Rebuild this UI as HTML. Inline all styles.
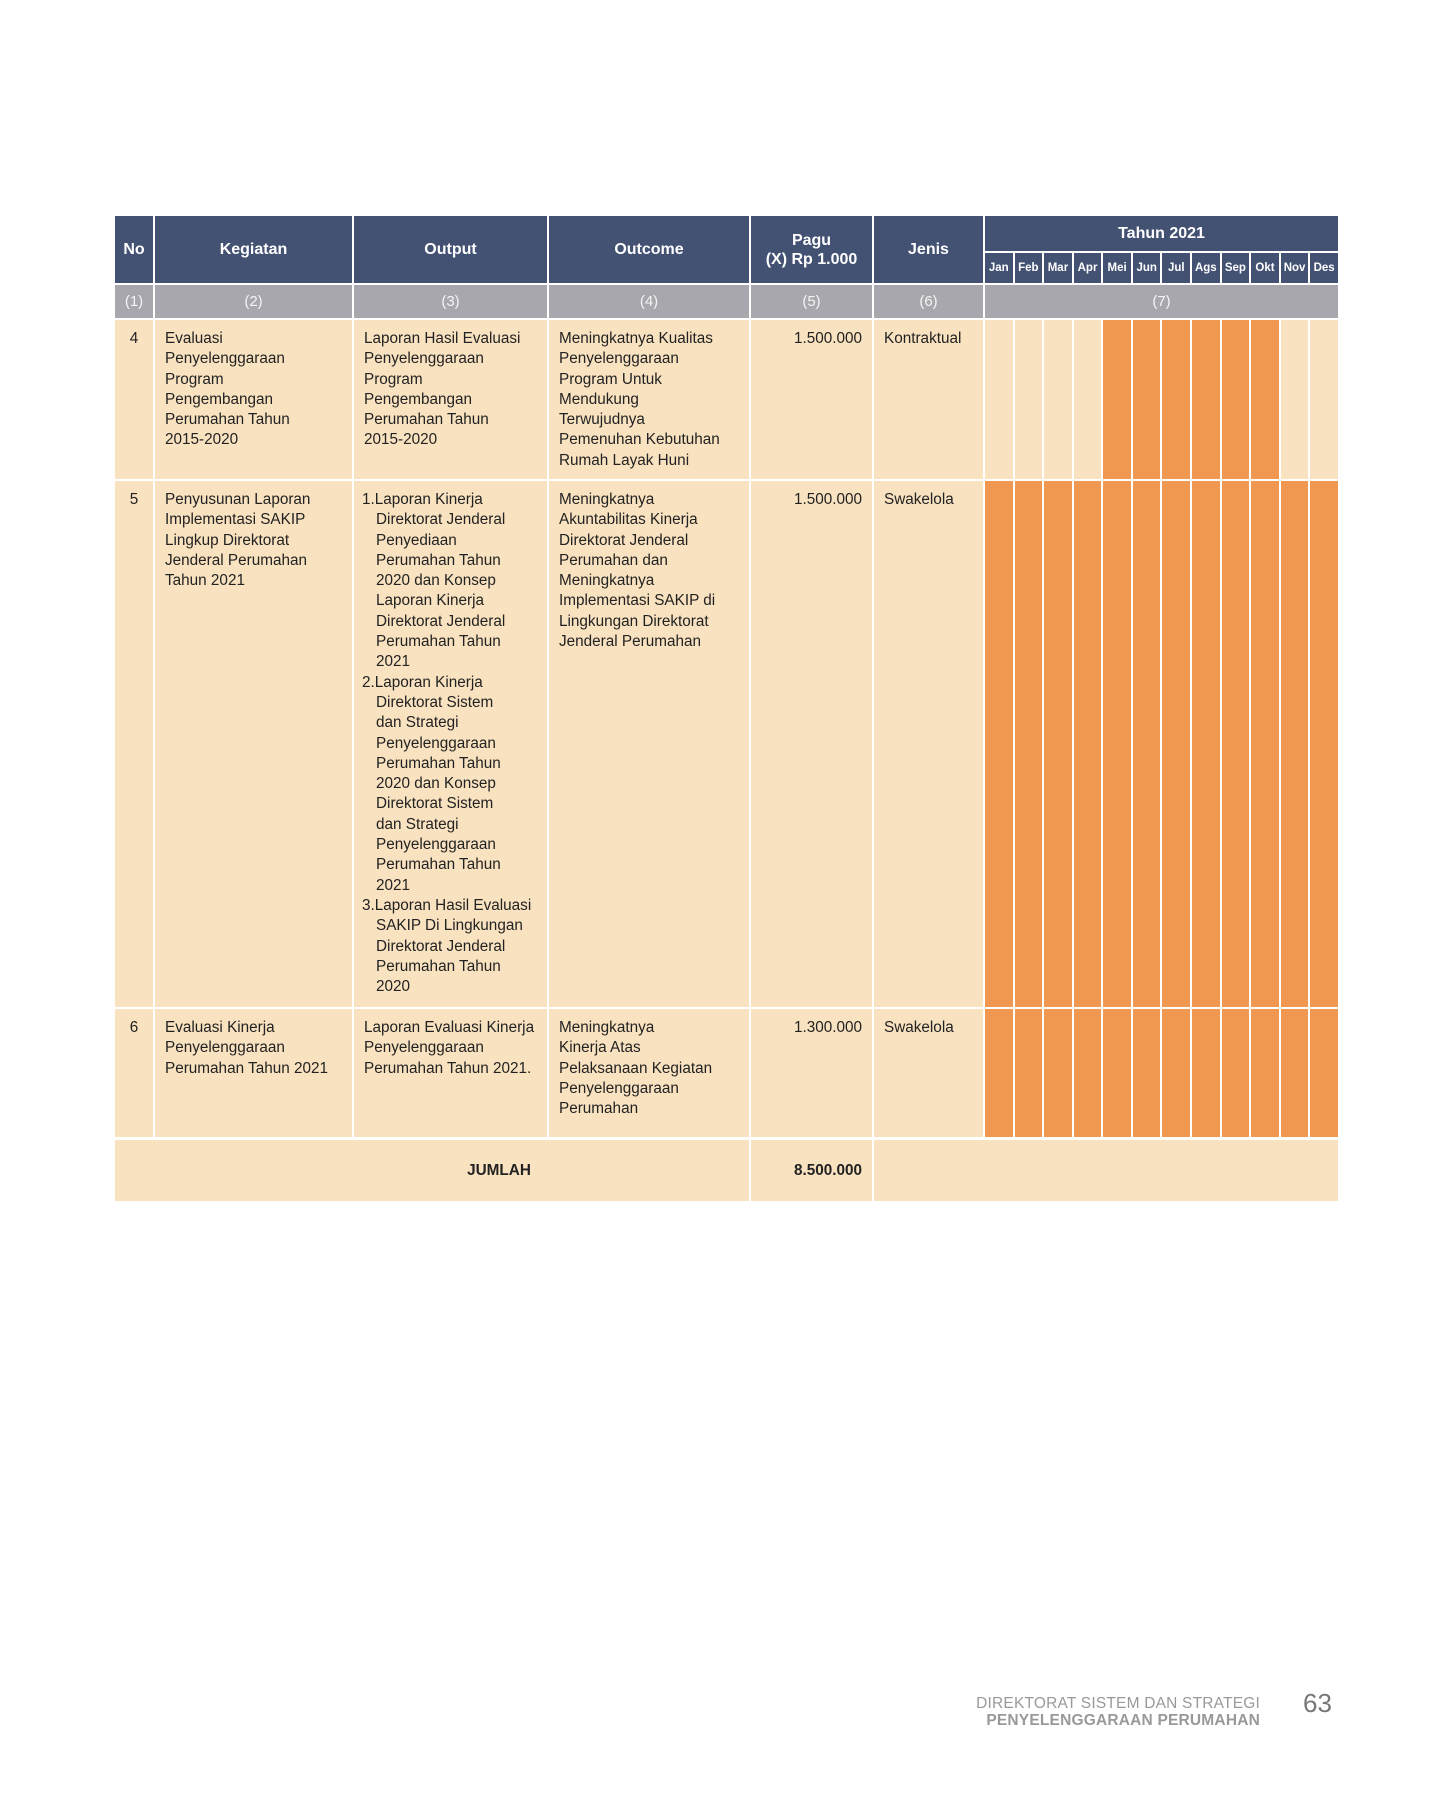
<!DOCTYPE html>
<html><head><meta charset="utf-8"><style>
*{margin:0;padding:0;box-sizing:border-box}
body{width:1440px;height:1800px;background:#fff;position:relative;font-family:"Liberation Sans",sans-serif;overflow:hidden}
.c{position:absolute}
.h{background:#435173;color:#fff;font-weight:bold;font-size:16px;display:flex;align-items:center;justify-content:center;text-align:center;line-height:19px}
.g{background:#a8a7ae;color:#f4f4f4;font-size:15px;display:flex;align-items:center;justify-content:center}
.b{background:#f9e2c0;color:#222;font-size:15.3px;line-height:20.3px;padding:9px 8px 0 10px;white-space:nowrap}
.m{position:absolute;display:flex;gap:2px}
.m div{flex:1}
.mh div{background:#435173;color:#fff;font-size:11.5px;font-weight:bold;display:flex;align-items:center;justify-content:center}
.o{background:#f0984f}.l{background:#f9e2c0}
.li{padding-left:14px;text-indent:-14px}
</style></head><body>
<div class="c h" style="left:115px;top:216px;width:38px;height:67px">No</div>
<div class="c h" style="left:155px;top:216px;width:197px;height:67px">Kegiatan</div>
<div class="c h" style="left:354px;top:216px;width:193px;height:67px">Output</div>
<div class="c h" style="left:549px;top:216px;width:200px;height:67px">Outcome</div>
<div class="c h" style="left:751px;top:216px;width:121px;height:67px">Pagu<br>(X) Rp 1.000</div>
<div class="c h" style="left:874px;top:216px;width:109px;height:67px">Jenis</div>
<div class="c h" style="left:985px;top:216px;width:353px;height:35px">Tahun 2021</div>
<div class="m mh" style="left:985px;top:253px;width:353px;height:30px"><div>Jan</div><div>Feb</div><div>Mar</div><div>Apr</div><div>Mei</div><div>Jun</div><div>Jul</div><div>Ags</div><div>Sep</div><div>Okt</div><div>Nov</div><div>Des</div></div>
<div class="c g" style="left:115px;top:285px;width:38px;height:33px">(1)</div>
<div class="c g" style="left:155px;top:285px;width:197px;height:33px">(2)</div>
<div class="c g" style="left:354px;top:285px;width:193px;height:33px">(3)</div>
<div class="c g" style="left:549px;top:285px;width:200px;height:33px">(4)</div>
<div class="c g" style="left:751px;top:285px;width:121px;height:33px">(5)</div>
<div class="c g" style="left:874px;top:285px;width:109px;height:33px">(6)</div>
<div class="c g" style="left:985px;top:285px;width:353px;height:33px">(7)</div>
<div class="c b" style="left:115px;top:320px;width:38px;height:159px;text-align:center;padding:9px 0 0">4</div>
<div class="c b" style="left:155px;top:320px;width:197px;height:159px">Evaluasi<br>Penyelenggaraan<br>Program<br>Pengembangan<br>Perumahan Tahun<br>2015-2020</div>
<div class="c b" style="left:354px;top:320px;width:193px;height:159px">Laporan Hasil Evaluasi<br>Penyelenggaraan<br>Program<br>Pengembangan<br>Perumahan Tahun<br>2015-2020</div>
<div class="c b" style="left:549px;top:320px;width:200px;height:159px">Meningkatnya Kualitas<br>Penyelenggaraan<br>Program Untuk<br>Mendukung<br>Terwujudnya<br>Pemenuhan Kebutuhan<br>Rumah Layak Huni</div>
<div class="c b" style="left:751px;top:320px;width:121px;height:159px;text-align:right;padding-right:10px">1.500.000</div>
<div class="c b" style="left:874px;top:320px;width:109px;height:159px">Kontraktual</div>
<div class="m" style="left:985px;top:320px;width:353px;height:159px"><div class="l"></div><div class="l"></div><div class="l"></div><div class="l"></div><div class="o"></div><div class="o"></div><div class="o"></div><div class="o"></div><div class="o"></div><div class="o"></div><div class="l"></div><div class="l"></div></div>
<div class="c b" style="left:115px;top:481px;width:38px;height:526px;text-align:center;padding:9px 0 0">5</div>
<div class="c b" style="left:155px;top:481px;width:197px;height:526px">Penyusunan Laporan<br>Implementasi SAKIP<br>Lingkup Direktorat<br>Jenderal Perumahan<br>Tahun 2021</div>
<div class="c b" style="left:354px;top:481px;width:193px;height:526px;padding-left:8px">
<div class="li">1.Laporan Kinerja<br>Direktorat Jenderal<br>Penyediaan<br>Perumahan Tahun<br>2020 dan Konsep<br>Laporan Kinerja<br>Direktorat Jenderal<br>Perumahan Tahun<br>2021</div>
<div class="li">2.Laporan Kinerja<br>Direktorat Sistem<br>dan Strategi<br>Penyelenggaraan<br>Perumahan Tahun<br>2020 dan Konsep<br>Direktorat Sistem<br>dan Strategi<br>Penyelenggaraan<br>Perumahan Tahun<br>2021</div>
<div class="li">3.Laporan Hasil Evaluasi<br>SAKIP Di Lingkungan<br>Direktorat Jenderal<br>Perumahan Tahun<br>2020</div></div>
<div class="c b" style="left:549px;top:481px;width:200px;height:526px">Meningkatnya<br>Akuntabilitas Kinerja<br>Direktorat Jenderal<br>Perumahan dan<br>Meningkatnya<br>Implementasi SAKIP di<br>Lingkungan Direktorat<br>Jenderal Perumahan</div>
<div class="c b" style="left:751px;top:481px;width:121px;height:526px;text-align:right;padding-right:10px">1.500.000</div>
<div class="c b" style="left:874px;top:481px;width:109px;height:526px">Swakelola</div>
<div class="m" style="left:985px;top:481px;width:353px;height:526px"><div class="o"></div><div class="o"></div><div class="o"></div><div class="o"></div><div class="o"></div><div class="o"></div><div class="o"></div><div class="o"></div><div class="o"></div><div class="o"></div><div class="o"></div><div class="o"></div></div>
<div class="c b" style="left:115px;top:1009px;width:38px;height:128px;text-align:center;padding:9px 0 0">6</div>
<div class="c b" style="left:155px;top:1009px;width:197px;height:128px">Evaluasi Kinerja<br>Penyelenggaraan<br>Perumahan Tahun 2021</div>
<div class="c b" style="left:354px;top:1009px;width:193px;height:128px">Laporan Evaluasi Kinerja<br>Penyelenggaraan<br>Perumahan Tahun 2021.</div>
<div class="c b" style="left:549px;top:1009px;width:200px;height:128px">Meningkatnya<br>Kinerja Atas<br>Pelaksanaan Kegiatan<br>Penyelenggaraan<br>Perumahan</div>
<div class="c b" style="left:751px;top:1009px;width:121px;height:128px;text-align:right;padding-right:10px">1.300.000</div>
<div class="c b" style="left:874px;top:1009px;width:109px;height:128px">Swakelola</div>
<div class="m" style="left:985px;top:1009px;width:353px;height:128px"><div class="o"></div><div class="o"></div><div class="o"></div><div class="o"></div><div class="o"></div><div class="o"></div><div class="o"></div><div class="o"></div><div class="o"></div><div class="o"></div><div class="o"></div><div class="o"></div></div>
<div class="c b" style="left:115px;top:1140px;width:634px;height:61px;font-weight:bold;text-align:center;padding:0;line-height:61px;padding-left:134px">JUMLAH</div>
<div class="c b" style="left:751px;top:1140px;width:121px;height:61px;font-weight:bold;text-align:right;padding:0 10px 0 0;line-height:61px">8.500.000</div>
<div class="c b" style="left:874px;top:1140px;width:464px;height:61px"></div>
<div class="c" style="left:900px;top:1695px;width:360px;text-align:right;color:#999;font-size:15.5px;line-height:17px;letter-spacing:0.2px">DIREKTORAT SISTEM DAN STRATEGI<br><b>PENYELENGGARAAN PERUMAHAN</b></div>
<div class="c" style="left:1303px;top:1688px;color:#777;font-size:26px">63</div>
</body></html>
